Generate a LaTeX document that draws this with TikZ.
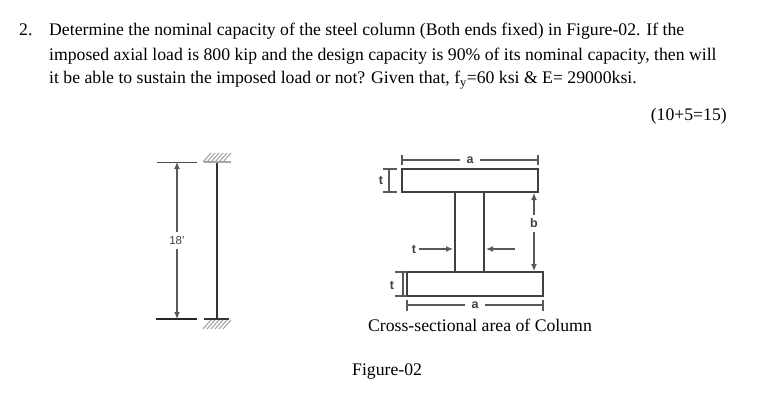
\documentclass[tikz,border=0pt]{standalone}
\usepackage{fontspec}
\setmainfont{Liberation Serif}
\setsansfont{Liberation Sans}
\usetikzlibrary{arrows.meta}
\tikzset{
  bodytext/.style={anchor=base west, inner sep=0pt, font=\fontsize{17.7}{20}\selectfont},
  dimlabel/.style={font=\sffamily\bfseries\fontsize{12.5}{14}\selectfont, text=black!75, inner sep=0pt},
  dimgap/.style={dimlabel, fill=white, inner xsep=7pt, inner ysep=1pt},
  dimline/.style={draw=black!65, line width=1.1pt},
  dimarrow/.style={dimline, ->, >={Latex[length=7pt,width=6pt]}},
  section/.style={draw=black!75, line width=1.5pt},
  hatchline/.style={draw=black!35, line width=1.1pt}
}

\begin{document}
\begin{tikzpicture}[x=1pt,y=-1pt]
\useasboundingbox (0,0) rectangle (758,412);

% Question text
\node[bodytext] (num)  at (19,36) {2.};
\node[bodytext] (lineA) at (49,36) {Determine the nominal capacity of the steel column (Both ends fixed) in Figure-02. If the};
\node[bodytext] (lineB) at (49,60) {imposed axial load is 800 kip and the design capacity is 90\% of its nominal capacity, then will};
\node[bodytext] (lineC) at (49,84) {it be able to sustain the imposed load or not? Given that, f\textsubscript{y}=60 ksi \& E= 29000ksi.};
\node[bodytext, anchor=base east] (marks) at (727,121) {(10+5=15)};

% Column elevation
\coordinate (coltop) at (217,162);
\coordinate (colbot) at (217,319);
\draw [line width=1.9pt, black!80] (coltop) -- (colbot);
\draw [line width=1.7pt, black!80] (204,319) coordinate (plateL) -- (229,319) coordinate (plateR);
\draw [hatchline] (204,162) -- (231,162);
\foreach \x in {203,207,...,223} {
  \draw [hatchline] (\x,162) -- (\x+8,153);
  \draw [hatchline] (\x,329) -- (\x+8,320);
}

% Height dimension
\draw [line width=1pt, black!70] (157,162) coordinate (lenTopL) -- (197,162) coordinate (lenTopR);
\draw [line width=1.2pt, black!85] (156,319) coordinate (lenBotL) -- (197,319) coordinate (lenBotR);
\coordinate (lenA) at (177,162);
\coordinate (lenB) at (177,319);
\draw [dimarrow, <->] (lenA) -- node[dimgap, inner xsep=1pt, inner ysep=4pt, font=\sffamily\fontsize{11.5}{13}\selectfont] (lenlabel) {18'} (lenB);

% Top flange, web, bottom flange
\coordinate (topNW) at (402,169);
\coordinate (topSE) at (538,192);
\coordinate (botNW) at (407,272);
\coordinate (botSE) at (543,296);
\draw [section] (topNW) rectangle (topSE);
\draw [section] (botNW) rectangle (botSE);
\draw [section] (455,192) coordinate (webTL) -- (455,272) coordinate (webBL);
\draw [section] (484,192) coordinate (webTR) -- (484,272) coordinate (webBR);

% Dimensions a
\draw [dimline] (402,160) coordinate (atopL) -- node[dimgap] (atop) {a} (538,160) coordinate (atopR);
\draw [dimline] (402,155) -- (402,165);
\draw [dimline] (538,155) -- (538,165);
\draw [dimline] (407,305) coordinate (abotL) -- node[dimgap] (abot) {a} (543,305) coordinate (abotR);
\draw [dimline] (407,300) -- (407,311);
\draw [dimline] (543,300) -- (543,311);

% Dimensions t
\draw [dimline] (389,169) coordinate (tA) -- (389,192) coordinate (tB);
\draw [dimline] (383,169) -- (397,169);
\draw [dimline] (383,192) -- (397,192);
\node[dimlabel] (tlabelA) at (381,180) {t};
\draw [dimline] (403,272) coordinate (tC) -- (403,296) coordinate (tD);
\draw [dimline] (395,272) -- (407,272);
\draw [dimline] (395,296) -- (407,296);
\node[dimlabel] (tlabelB) at (392,285) {t};
\node[dimlabel] (tlabelC) at (414,249) {t};
\coordinate (webR) at (515,249);
\draw [dimarrow] (tlabelC.east) ++(3,0) -- (453,249);
\draw [dimarrow] (webR) -- (486,249);

% Dimension b
\node[dimlabel] (blabel) at (534,223) {b};
\draw [dimarrow] (blabel.north) ++(0,-3) -- (534,193);
\draw [dimarrow] (blabel.south) ++(0,4) -- (534,271);

% Captions
\node[bodytext, anchor=base] (caption) at (480,331) {Cross-sectional area of Column};
\node[bodytext] (figure) at (352,375) {Figure-02};

\end{tikzpicture}
\end{document}
